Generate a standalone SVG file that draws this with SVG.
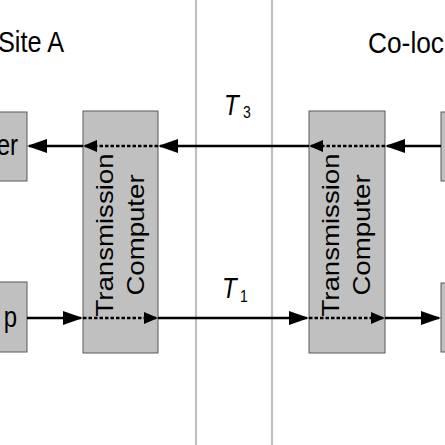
<svg xmlns="http://www.w3.org/2000/svg" width="445" height="445" viewBox="0 0 445 445">
<style>
.bg{fill:#ffffff}
.div{stroke:#c0c0c0;stroke-width:2.2;fill:none}
.box{fill:#c0c0c0;stroke:#5a5a5a;stroke-width:1}
.txt{font-family:"Liberation Sans",Arial,sans-serif;font-size:24px;fill:#000}
.vt{font-family:"Liberation Sans",Arial,sans-serif;font-size:23px;fill:#000;text-anchor:middle}
.it{font-family:"Liberation Sans",Arial,sans-serif;font-size:24px;font-style:italic;fill:#000}
.sub{font-family:"Liberation Sans",Arial,sans-serif;font-size:14px;fill:#000}
.sol{stroke:#000;stroke-width:2.6;fill:none}
.dot{stroke:#000;stroke-width:2.6;fill:none;stroke-dasharray:3.5 2}
</style>
<defs>
<marker id="ah" markerUnits="userSpaceOnUse" markerWidth="20" markerHeight="14" refX="18" refY="7" orient="auto"><path d="M0,0 L20,7 L0,14 z" fill="#000"/></marker>
<marker id="ahs" markerUnits="userSpaceOnUse" markerWidth="14" markerHeight="12" refX="12" refY="6" orient="auto"><path d="M0,0 L14,6 L0,12 z" fill="#000"/></marker>
</defs>
<rect class="bg" x="0" y="0" width="445" height="445"/>
<g id="dividers">
<line class="div" x1="196" y1="0" x2="196" y2="445"/>
<line class="div" x1="272" y1="0" x2="272" y2="445"/>
</g>
<g id="titles">
<text class="txt" transform="translate(-2,52) scale(1,1.2)" textLength="66" lengthAdjust="spacingAndGlyphs">Site A</text>
<text class="txt" transform="translate(368,53) scale(1,1.2)" textLength="76" lengthAdjust="spacingAndGlyphs">Co-loc</text>
</g>
<g id="node-left-top">
<rect class="box" x="-5" y="112" width="32" height="69"/>
<text class="txt" text-anchor="end" transform="translate(18,155) scale(1,1.2)">er</text>
</g>
<g id="node-left-bottom">
<rect class="box" x="-5" y="282" width="32" height="70"/>
<text class="txt" text-anchor="end" transform="translate(17,327) scale(1,1.2)">p</text>
</g>
<g id="node-tc-left">
<rect class="box" x="83" y="111" width="75" height="242"/>
<text class="vt" transform="translate(112.5,235) scale(1,1.2) rotate(-90)">Transmission</text>
<text class="vt" transform="translate(144,235) scale(1,1.2) rotate(-90)">Computer</text>
</g>
<g id="node-tc-right">
<rect class="box" x="309" y="111" width="76" height="242"/>
<text class="vt" transform="translate(338.5,235) scale(1,1.2) rotate(-90)">Transmission</text>
<text class="vt" transform="translate(370,235) scale(1,1.2) rotate(-90)">Computer</text>
</g>
<g id="node-right-top">
<rect class="box" x="441" y="112" width="10" height="69"/>
</g>
<g id="node-right-bottom">
<rect class="box" x="441" y="283" width="10" height="69"/>
</g>
<g id="connectors">
<path class="sol" d="M441,146 H387" marker-end="url(#ah)"/>
<path class="dot" d="M385,146 H311" marker-end="url(#ahs)"/>
<path class="sol" d="M309,146 H160" marker-end="url(#ah)"/>
<path class="dot" d="M158,146 H85" marker-end="url(#ahs)"/>
<path class="sol" d="M83,146 H29" marker-end="url(#ah)"/>
<path class="sol" d="M27,318 H81" marker-end="url(#ah)"/>
<path class="dot" d="M83,318 H156" marker-end="url(#ahs)"/>
<path class="sol" d="M158,318 H307" marker-end="url(#ah)"/>
<path class="dot" d="M309,318 H383" marker-end="url(#ahs)"/>
<path class="sol" d="M385,318 H439" marker-end="url(#ah)"/>
</g>
<g id="labels">
<text class="it" transform="translate(224,115) scale(1,1.2)">T</text>
<text class="sub" transform="translate(243,118) scale(1,1.2)">3</text>
<text class="it" transform="translate(222,298) scale(1,1.2)">T</text>
<text class="sub" transform="translate(240,302) scale(1,1.2)">1</text>
</g>
</svg>
